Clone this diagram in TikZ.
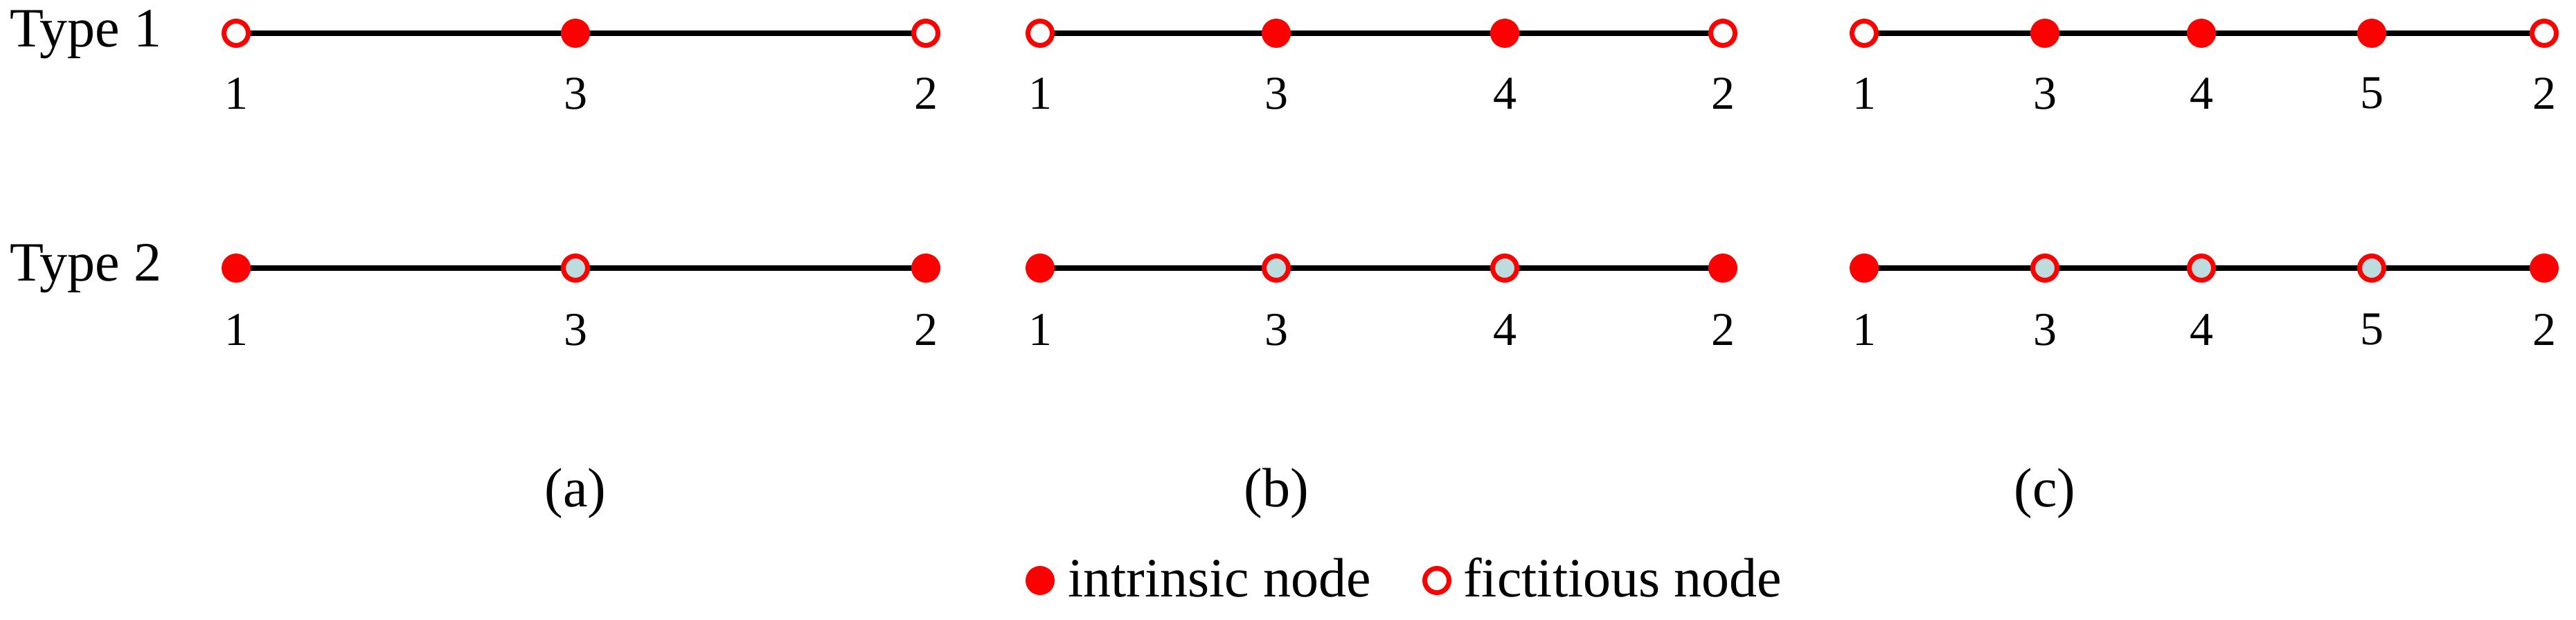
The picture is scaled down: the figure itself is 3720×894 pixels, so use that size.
\documentclass[tikz,border=0pt]{standalone}
\usepackage{fontspec}
\setmainfont{Liberation Serif}
\definecolor{fillb}{HTML}{BCDCDE}
\begin{document}
\begin{tikzpicture}[x=1pt,y=-1pt,
  intr/.style={circle,fill=red,draw=none,minimum size=42pt,inner sep=0pt},
  fict/.style={circle,fill=white,draw=red,line width=7pt,minimum size=35pt,inner sep=0pt},
  fictb/.style={fict,fill=fillb},
  lbl/.style={font=\fontsize{68}{70}\selectfont},
  big/.style={font=\fontsize{80}{84}\selectfont},
  bar/.style={line width=8pt,black}]
\useasboundingbox (0,0) rectangle (3720,894);
\node[big] (t1) at (124,50) {Type 1};
\node[big] (t2) at (124,388) {Type 2};
% Type 1 (a)
\draw[bar] (341,48) -- (1337,48);
\node[fict] (a11) at (341,48) {};
\node[intr] (a13) at (831,48) {};
\node[fict] (a12) at (1337,48) {};
% Type 2 (a)
\draw[bar] (341,387) -- (1337,387);
\node[intr] (a21) at (341,387) {};
\node[fictb] (a23) at (831,387) {};
\node[intr] (a22) at (1337,387) {};
% (b)
\draw[bar] (1502,48) -- (2488,48);
\node[fict] (b11) at (1502,48) {};
\node[intr] (b13) at (1843,48) {};
\node[intr] (b14) at (2173,48) {};
\node[fict] (b12) at (2488,48) {};
\draw[bar] (1502,387) -- (2488,387);
\node[intr] (b21) at (1502,387) {};
\node[fictb] (b23) at (1843,387) {};
\node[fictb] (b24) at (2173,387) {};
\node[intr] (b22) at (2488,387) {};
% (c)
\draw[bar] (2692,48) -- (3674,48);
\node[fict] (c11) at (2692,48) {};
\node[intr] (c13) at (2953,48) {};
\node[intr] (c14) at (3179,48) {};
\node[intr] (c15) at (3425,48) {};
\node[fict] (c12) at (3674,48) {};
\draw[bar] (2692,387) -- (3674,387);
\node[intr] (c21) at (2692,387) {};
\node[fictb] (c23) at (2953,387) {};
\node[fictb] (c24) at (3179,387) {};
\node[fictb] (c25) at (3425,387) {};
\node[intr] (c22) at (3674,387) {};
% numbers
\foreach \x/\t in {341/1,831/3,1337/2,1502/1,1843/3,2173/4,2488/2,2692/1,2953/3,3179/4,3425/5,3674/2}{
  \node[lbl] at (\x,135) {\t};
  \node[lbl] at (\x,476) {\t};
}
\node[big] (la) at (831,712) {(a)};
\node[big] (lb) at (1843,712) {(b)};
\node[big] (lc) at (2953,712) {(c)};
% legend
\node[intr] (li) at (1502,838) {};
\node[big,anchor=west,inner sep=0pt] (lit) at (1542,834) {intrinsic node};
\node[fict] (lf) at (2075,838) {};
\node[big,anchor=west,inner sep=0pt] (lft) at (2113,834) {fictitious node};
\end{tikzpicture}
\end{document}
